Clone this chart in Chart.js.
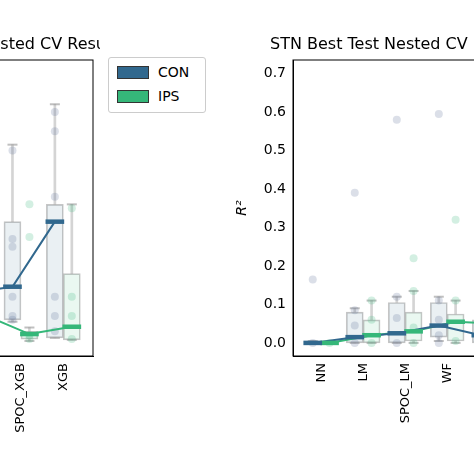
<!DOCTYPE html>
<html><head><meta charset="utf-8">
<script src="https://cdn.jsdelivr.net/npm/chart.js@4"></script>
<style>
body{margin:0;width:474px;height:474px;overflow:hidden;background:#fff;position:relative;font-family:"DejaVu Sans",sans-serif}
canvas{position:absolute;top:0}
#legend{position:absolute;left:108px;top:57px;width:96px;height:54px;border:1px solid #ccc;border-radius:3px;background:#fff;font-size:14px}
.row{position:absolute;left:8px;display:flex;align-items:center}
.sw{width:30px;height:11px;border:1px solid #333;margin-right:9px}
</style></head><body>
<canvas id="cl" width="400" height="474" style="left:-300px;width:400px;height:474px"></canvas>
<canvas id="cr" width="300" height="474" style="left:230px;width:300px;height:474px"></canvas>
<div id="legend">
 <div class="row" style="top:6px"><div class="sw" style="background:#31688e"></div>CON</div>
 <div class="row" style="top:30px"><div class="sw" style="background:#35b779"></div>IPS</div>
</div>
<script>
const categories=["NN","LM","SPOC_LM","WF","SPOC_WF","SPOC_XGB","XGB"];
const yTicks=[0,0.1,0.2,0.3,0.4,0.5,0.6,0.7];
// Train (left panel)
const trConMin=[0,0.01,0.01,0.02,0.04,0.055,0.013];
const trConQ1=[0,0.02,0.03,0.05,0.06,0.06,0.013];
const trConMed=[0,0.04,0.06,0.1,0.13,0.146,0.315];
const trConQ3=[0.01,0.09,0.12,0.2,0.25,0.315,0.36];
const trConMax=[0.02,0.15,0.2,0.35,0.42,0.515,0.62];
const trIpsMin=[0,0,0.005,0.01,0.01,0.005,0.008];
const trIpsQ1=[0,0.01,0.01,0.02,0.03,0.01,0.008];
const trIpsMed=[0,0.02,0.03,0.05,0.07,0.023,0.042];
const trIpsQ3=[0.01,0.05,0.06,0.1,0.12,0.03,0.18];
const trIpsMax=[0.02,0.08,0.1,0.18,0.2,0.04,0.36];
const trConPts=[[],[],[],[],[],[0.5,0.27,0.25,0.12,0.07,0.06],[0.6,0.55,0.38,0.12,0.07,0.03]];
const trIpsPts=[[],[],[],[],[],[0.36,0.275,0.02,0.01],[0.35,0.12,0.07,0.01]];
// Test (right panel)
const teConMin=[0,0,0,0.005,0,0,0];
const teConQ1=[0,0,0,0.015,0,0.01,0.01];
const teConMed=[0,0.015,0.025,0.045,0.02,0.03,0.04];
const teConQ3=[0.005,0.08,0.105,0.105,0.06,0.08,0.09];
const teConMax=[0.005,0.09,0.12,0.12,0.1,0.12,0.13];
const teIpsMin=[0,0,0,0,0,0,0];
const teIpsQ1=[0,0,0.005,0.005,0.01,0.01,0.01];
const teIpsMed=[0,0.02,0.03,0.055,0.05,0.04,0.05];
const teIpsQ3=[0.002,0.06,0.08,0.075,0.09,0.08,0.09];
const teIpsMax=[0.003,0.11,0.135,0.11,0.14,0.13,0.14];
const teConPts=[[0.165,0],[0.39,0.085,0.045,0],[0.58,0.12,0.065,0],[0.595,0.11,0.06,0.02,0],[],[],[]];
const teIpsPts=[[0],[0.11,0.06,0],[0.22,0.135,0.04,0],[0.32,0.11,0.005],[],[],[]];

const CON='#31688e', IPS='#35b779';
function groupSets(off,col,fill,dot,mn,q1,md,q3,mx,pts){
  const xs=categories.map((c,i)=>i+off);
  const sets=[];
  const bar={type:'bar',grouped:false,categoryPercentage:1,barPercentage:1};
  sets.push({...bar,data:xs.map((x,i)=>({x,y:[mn[i],q1[i]]})),backgroundColor:'rgba(170,170,170,0.5)',barThickness:2,order:9});
  sets.push({...bar,data:xs.map((x,i)=>({x,y:[q3[i],mx[i]]})),backgroundColor:'rgba(170,170,170,0.5)',barThickness:2,order:9});
  sets.push({type:'scatter',data:xs.flatMap((x,i)=>[{x,y:mn[i]},{x,y:mx[i]}]),pointStyle:'line',pointRadius:5,borderColor:'rgba(150,150,150,0.6)',borderWidth:2,order:8});
  sets.push({...bar,data:xs.map((x,i)=>({x,y:[q1[i],q3[i]]})),backgroundColor:fill,borderColor:'rgba(160,160,160,0.6)',borderWidth:1,borderSkipped:false,barThickness:17,order:7});
  sets.push({type:'scatter',data:xs.flatMap((x,i)=>pts[i].map(v=>({x,y:v}))),pointRadius:4,backgroundColor:dot,borderWidth:0,order:6});
  sets.push({type:'line',data:xs.map((x,i)=>({x,y:md[i]})),borderColor:col,borderWidth:2,pointRadius:0,order:3});
  sets.push({...bar,data:xs.map((x,i)=>({x,y:[md[i]-0.005,md[i]+0.005]})),backgroundColor:col,barThickness:18,order:2});
  return sets;
}
function frame(title,align,dx){return{id:'fr',afterDraw(ch){const a=ch.chartArea,c=ch.ctx;c.save();c.strokeStyle='#000';c.lineWidth=1;c.strokeRect(a.left,a.top,a.right-a.left,a.bottom-a.top);
 c.fillStyle='#000';c.font='16px "DejaVu Sans"';c.textAlign=align;c.textBaseline='alphabetic';c.fillText(title,(align==='right'?a.right:a.left)+dx,49);c.restore();}}}
function makeChart(id,sets,xmin,xmax,yw,ylab,title,align,dx){
 new Chart(document.getElementById(id),{data:{datasets:sets},plugins:[frame(title,align,dx)],
 options:{animation:false,responsive:false,layout:{padding:{top:60,right:0,left:0,bottom:0}},
 plugins:{legend:{display:false},tooltip:{enabled:false}},
 scales:{x:{type:'linear',offset:false,min:xmin,max:xmax,grid:{display:false,offset:false,drawTicks:true,tickLength:4,tickColor:'#000'},border:{color:'#000'},
   afterBuildTicks:s=>{s.ticks=categories.map((c,i)=>({value:i})).filter(t=>t.value>=xmin&&t.value<=xmax);},
   afterFit:s=>{s.height=118;s.paddingLeft=0;s.paddingRight=0;},
   ticks:{color:'#000',font:{size:13,family:'DejaVu Sans'},minRotation:90,maxRotation:90,autoSkip:false,callback:v=>categories[v]}},
  y:{min:-0.034,max:0.735,grid:{display:false,tickLength:4,tickColor:'#000'},border:{color:'#000'},afterFit:s=>{s.width=yw;s.paddingTop=0;s.paddingBottom=0;},
   afterBuildTicks:s=>{s.ticks=yTicks.map(v=>({value:v}));},
   title:{display:!!ylab,text:ylab,color:'#000',font:{size:14,style:'italic',family:'DejaVu Sans'}},
   ticks:{color:'#000',font:{size:14,family:'DejaVu Sans'},callback:v=>v.toFixed(1)}}}}});
}
const left=[...groupSets(-0.2,CON,'rgba(49,104,142,0.1)','rgba(90,110,150,0.22)',trConMin,trConQ1,trConMed,trConQ3,trConMax,trConPts),
 ...groupSets(0.2,IPS,'rgba(53,183,121,0.1)','rgba(53,183,121,0.22)',trIpsMin,trIpsQ1,trIpsMed,trIpsQ3,trIpsMax,trIpsPts)];
const right=[...groupSets(-0.2,CON,'rgba(49,104,142,0.1)','rgba(90,110,150,0.22)',teConMin,teConQ1,teConMed,teConQ3,teConMax,teConPts),
 ...groupSets(0.2,IPS,'rgba(53,183,121,0.1)','rgba(53,183,121,0.22)',teIpsMin,teIpsQ1,teIpsMed,teIpsQ3,teIpsMax,teIpsPts)];
makeChart('cl',left,6.7-348/43,6.7,50,'R²','STN Best Nested CV Results','right',32);
makeChart('cr',right,-29/43.3,-29/43.3+237/43.3,63,'R²','STN Best Test Nested CV Results','left',-23);
</script></body></html>
